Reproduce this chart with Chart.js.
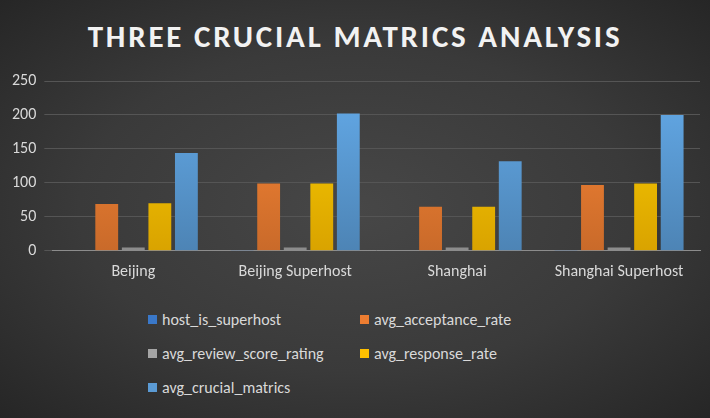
<!DOCTYPE html>
<html>
<head>
<meta charset="utf-8">
<script src="https://cdn.jsdelivr.net/npm/chart.js@4"></script>
<style>
  html, body { margin: 0; padding: 0; }
  body {
    width: 710px; height: 418px; overflow: hidden; position: relative;
    background: radial-gradient(ellipse at center, #474747 0%, #3a3a3a 55%, #262626 100%);
    font-family: Calibri, Carlito, "Liberation Sans", sans-serif;
  }
  #title {
    position: absolute; top: 17px; left: 0; width: 710px; text-align: center;
    color: #f2f2f2; font-size: 31px; font-weight: bold; letter-spacing: 2.8px;
  }
  #wrap { position: absolute; top: 0; left: 0; width: 710px; height: 286px; }
  #legend {
    position: absolute; top: 309px; left: 148px; display: grid;
    grid-template-columns: 212px 212px; row-gap: 14px; color: #d9d9d9; font-size: 16px;
  }
  .item { display: flex; align-items: center; height: 20px; }
  .box { width: 9px; height: 9px; margin-right: 5px; }
</style>
</head>
<body>
<div id="title">THREE CRUCIAL MATRICS ANALYSIS</div>
<div id="wrap"><canvas id="chart"></canvas></div>
<div id="legend"></div>
<script>
const categories = ["Beijing", "Beijing Superhost", "Shanghai", "Shanghai Superhost"];
const seriesNames = ["host_is_superhost", "avg_acceptance_rate", "avg_review_score_rating", "avg_response_rate", "avg_crucial_matrics"];
const hostIsSuperhost = [0, 1, 0, 1];
const avgAcceptanceRate = [69, 99, 65, 97];
const avgReviewScoreRating = [4.7, 4.8, 4.7, 4.8];
const avgResponseRate = [70, 99, 65, 99];
const avgCrucialMatrics = [144, 202, 132, 200];
const yTicks = [0, 50, 100, 150, 200, 250];

const colors = ["#3a78c9", "#ed7d31", "#a5a5a5", "#ffc000", "#5b9bd5"];
const seriesData = [hostIsSuperhost, avgAcceptanceRate, avgReviewScoreRating, avgResponseRate, avgCrucialMatrics];

function shade(hex, f) {
  const n = parseInt(hex.slice(1), 16);
  const c = [n >> 16, (n >> 8) & 255, n & 255].map(v => Math.round(Math.min(255, v * f)));
  return `rgb(${c[0]},${c[1]},${c[2]})`;
}

const tickFont = { size: 16, family: "Carlito, Calibri, 'Liberation Sans'" };
const ctx = document.getElementById("chart").getContext("2d");
new Chart(ctx, {
  type: "bar",
  data: {
    labels: categories,
    datasets: seriesNames.map((name, i) => ({
      label: name,
      data: seriesData[i],
      backgroundColor: (c) => {
        const a = c.chart.chartArea;
        if (!a) return colors[i];
        const g = c.chart.ctx.createLinearGradient(0, a.top, 0, a.bottom);
        g.addColorStop(0, shade(colors[i], 1.1));
        g.addColorStop(1, shade(colors[i], 0.85));
        return g;
      },
      categoryPercentage: 0.82,
      barPercentage: 0.86
    }))
  },
  options: {
    responsive: true,
    maintainAspectRatio: false,
    animation: false,
    layout: { padding: { top: 81, left: 4, right: 10 } },
    plugins: { legend: { display: false }, tooltip: { enabled: false } },
    scales: {
      x: {
        grid: { display: false },
        border: { color: "#8c8c8c" },
        ticks: { color: "#d9d9d9", padding: 4, font: tickFont }
      },
      y: {
        min: 0, max: 250,
        afterBuildTicks: (s) => { s.ticks = yTicks.map(v => ({ value: v })); },
        grid: { color: "#555555" },
        border: { display: false },
        ticks: { color: "#d9d9d9", padding: 8, font: tickFont }
      }
    }
  }
});

const legend = document.getElementById("legend");
seriesNames.forEach((name, i) => {
  const d = document.createElement("div");
  d.className = "item";
  d.innerHTML = `<span class="box" style="background:${colors[i]}"></span>${name}`;
  legend.appendChild(d);
});
</script>
</body>
</html>
